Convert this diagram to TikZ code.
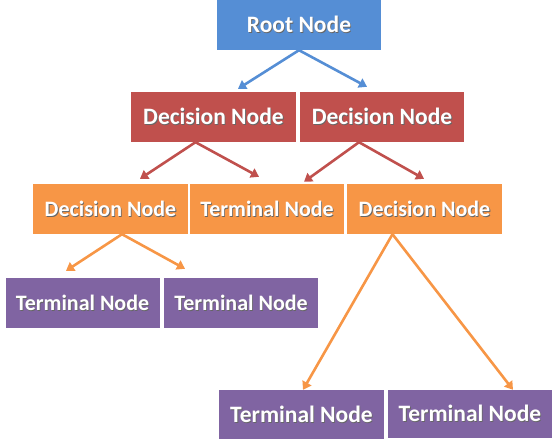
\documentclass[tikz,border=0pt]{standalone}
\usepackage{fontspec}
\setmainfont{Carlito}
\usetikzlibrary{arrows.meta,calc}
\definecolor{cblue}{HTML}{558ED5}
\definecolor{cred}{HTML}{C0504D}
\definecolor{corange}{HTML}{F79646}
\definecolor{cpurple}{HTML}{8064A2}
\newcommand{\shtxt}[1]{\rlap{\hspace{0.8pt}\raisebox{-0.8pt}{\textcolor{black!60}{#1}}}#1}
\tikzset{
  box/.style={fill=#1, text=white, font=\bfseries\fontsize{22}{24}\selectfont, inner sep=0pt, anchor=center},
  conn/.style={draw=#1, line width=2.6pt, -{Triangle[length=8pt,width=10pt]}}
}
\begin{document}
\begin{tikzpicture}[x=1pt,y=-1pt]
\useasboundingbox (0,0) rectangle (557,444);
% level 0
\node[box=cblue, minimum width=164pt, minimum height=50pt, font=\bfseries\fontsize{23.5}{25}\selectfont] (root) at (299,25) {\shtxt{Root Node}};
% level 1
\node[box=cred, minimum width=165pt, minimum height=50pt, font=\bfseries\fontsize{23.5}{25}\selectfont] (d1a) at (213.5,117) {\shtxt{Decision Node}};
\node[box=cred, minimum width=164pt, minimum height=50pt, font=\bfseries\fontsize{23.5}{25}\selectfont] (d1b) at (382,117) {\shtxt{Decision Node}};
% level 2
\node[box=corange, minimum width=155pt, minimum height=50pt] (d2a) at (110.5,209) {\shtxt{Decision Node}};
\node[box=corange, minimum width=154pt, minimum height=50pt] (t2) at (267,209) {\shtxt{Terminal Node}};
\node[box=corange, minimum width=155pt, minimum height=50pt] (d2b) at (424.5,209) {\shtxt{Decision Node}};
% level 3
\node[box=cpurple, minimum width=154pt, minimum height=50pt] (t3a) at (82.5,303) {\shtxt{Terminal Node}};
\node[box=cpurple, minimum width=154pt, minimum height=50pt] (t3b) at (241,303) {\shtxt{Terminal Node}};
% level 4
\node[box=cpurple, minimum width=165pt, minimum height=49pt, font=\bfseries\fontsize{23.5}{25}\selectfont] (t4a) at (301.5,414.5) {\shtxt{Terminal Node}};
\node[box=cpurple, minimum width=164pt, minimum height=48pt, font=\bfseries\fontsize{23.5}{25}\selectfont] (t4b) at (470,414) {\shtxt{Terminal Node}};
% connectors
\draw[conn=cblue] (root.south) -- ($(d1a.north)+(24.5,-3)$);
\draw[conn=cblue] (root.south) -- ($(d1b.north)+(-15,-5)$);
\draw[conn=cred] ($(d1a.south)+(-18,0)$) -- ($(d2a.north)+(29.5,-5)$);
\draw[conn=cred] ($(d1a.south)+(-18,0)$) -- ($(t2.north)+(-8,-7)$);
\draw[conn=cred] ($(d1b.south)+(-23,0)$) -- ($(t2.north)+(37,-2)$);
\draw[conn=cred] ($(d1b.south)+(-23,0)$) -- ($(d2b.north)+(-0.5,-5)$);
\draw[conn=corange] ($(d2a.south)+(11.5,0)$) -- ($(t3a.north)+(-16.5,-7)$);
\draw[conn=corange] ($(d2a.south)+(11.5,0)$) -- ($(t3b.north)+(-56,-9)$);
\draw[conn=corange] ($(d2b.south)+(-32,0)$) -- ($(t4a.north)+(1.5,0)$);
\draw[conn=corange] ($(d2b.south)+(-32,0)$) -- ($(t4b.north)+(43,0)$);
\end{tikzpicture}
\end{document}
